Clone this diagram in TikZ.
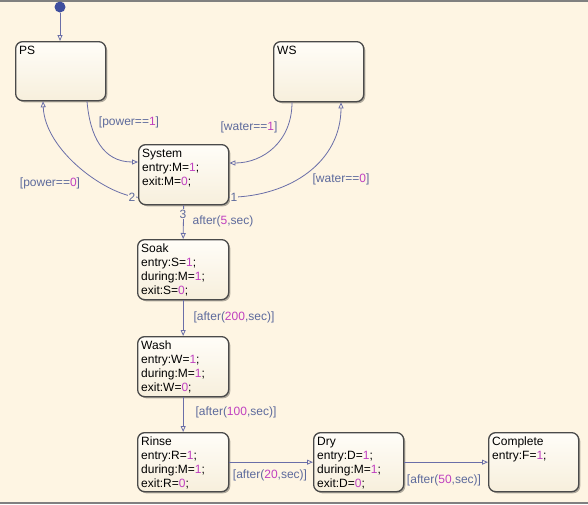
\documentclass[tikz,border=0pt]{standalone}
\usepackage{fontspec}
\setmainfont{Liberation Sans}
\usetikzlibrary{arrows.meta,shadows,calc}
\definecolor{bg}{HTML}{FEF5E3}
\definecolor{edge}{HTML}{6A6EA8}
\definecolor{lbl}{HTML}{5D6A9C}
\definecolor{num}{HTML}{C040C0}
\definecolor{boxtop}{HTML}{FFFDF8}
\definecolor{boxbot}{HTML}{F7EFDC}
\definecolor{frame}{HTML}{4A4A4A}
\definecolor{dotc}{HTML}{3F4E9E}
\definecolor{rule}{HTML}{808080}
\begin{document}
\begin{tikzpicture}[x=1pt,y=-1pt,
  statebox/.style={draw=frame, line width=1.3pt, rounded corners=7pt,
    top color=boxtop, bottom color=boxbot,
    minimum width=90pt, minimum height=60pt, inner sep=0pt, anchor=north west,
    drop shadow={shadow xshift=1.6pt,shadow yshift=-1.6pt,fill=black,opacity=0.3}},
  statetext/.style={anchor=north west, align=left, inner sep=0pt,
    font=\fontsize{12}{14}\selectfont, text=black},
  trans/.style={draw=edge, line width=0.8pt, -{Triangle[open,length=6pt,width=5pt]}},
  tlabel/.style={font=\fontsize{12}{14}\selectfont, text=lbl, inner sep=0pt},
  order/.style={tlabel, fill=bg, inner sep=0.6pt},
  ]
\fill[bg] (0,0) rectangle (588,504);
\fill[rule] (0,0) rectangle (588,1.5);
\fill[rule] (0,502) rectangle (588,504);
\useasboundingbox (0,0) rectangle (588,504);

% states
\node[statebox, minimum height=59pt] (ps) at (15,41) {};
\node[statebox] (ws) at (273,41) {};
\node[statebox] (sys) at (138,144) {};
\node[statebox, minimum width=91pt] (soak) at (137,239) {};
\node[statebox, minimum width=91pt] (wash) at (137,336) {};
\node[statebox, minimum width=91pt, minimum height=59pt] (rinse) at (137,432) {};
\node[statebox, minimum height=59pt] (dry) at (313,432) {};
\node[statebox, minimum height=59pt] (comp) at (488,432) {};

\node[statetext] (pst) at ($(ps.north west)+(4,5)$) {PS};
\node[statetext] (wst) at ($(ws.north west)+(4,5)$) {WS};
\node[statetext] (syst) at ($(sys.north west)+(4,5)$) {System\\entry:M=\textcolor{num}{1};\\exit:M=\textcolor{num}{0};};
\node[statetext] (soakt) at ($(soak.north west)+(4,5)$) {Soak\\entry:S=\textcolor{num}{1};\\during:M=\textcolor{num}{1};\\exit:S=\textcolor{num}{0};};
\node[statetext] (washt) at ($(wash.north west)+(4,5)$) {Wash\\entry:W=\textcolor{num}{1};\\during:M=\textcolor{num}{1};\\exit:W=\textcolor{num}{0};};
\node[statetext] (rinset) at ($(rinse.north west)+(4,5)$) {Rinse\\entry:R=\textcolor{num}{1};\\during:M=\textcolor{num}{1};\\exit:R=\textcolor{num}{0};};
\node[statetext] (dryt) at ($(dry.north west)+(4,5)$) {Dry\\entry:D=\textcolor{num}{1};\\during:M=\textcolor{num}{1};\\exit:D=\textcolor{num}{0};};
\node[statetext] (compt) at ($(comp.north west)+(4,5)$) {Complete\\entry:F=\textcolor{num}{1};};

% default transition
\node[circle, fill=dotc, minimum size=11pt, inner sep=0pt] (init) at (60,7) {};
\draw[trans] (init) -- (init |- ps.north);

% transitions
\draw[trans] ([xshift=72pt]ps.south west) .. controls +(3,35) and +(-35,0) .. ([yshift=-18pt]sys.north west);
\draw[trans] ([yshift=8pt]sys.south west) .. controls +(-33,-3) and +(2,49) .. ([xshift=28pt]ps.south west);
\draw[trans] ([xshift=19pt]ws.south west) .. controls +(0,39) and +(34,0) .. ([yshift=-19pt]sys.north east);
\draw[trans] ([yshift=8pt]sys.south east) .. controls +(62,-1) and +(0,59) .. ([xshift=68pt]ws.south west);
\draw[trans] (sys.south) -- (soak.north);
\draw[trans] (soak.south) -- (wash.north);
\draw[trans] (wash.south) -- (rinse.north);
\draw[trans] (rinse.east) -- (dry.west);
\draw[trans] (dry.east) -- (comp.west);

% labels
\node[tlabel] (l1) at (129,122) {[power==\textcolor{num}{1}]};
\node[tlabel] (l2) at (50,183) {[power==\textcolor{num}{0}]};
\node[tlabel] (l3) at (249,127) {[water==\textcolor{num}{1}]};
\node[tlabel] (l4) at (341,179) {[water==\textcolor{num}{0}]};
\node[order] (o2) at (132,197) {2};
\node[order] (o1) at (234,197) {1};
\node[order] (o3) at (183,214) {3};
\node[tlabel] (l5) at (223,221) {after(\textcolor{num}{5},sec)};
\node[tlabel] (l6) at (234,317) {[after(\textcolor{num}{200},sec)]};
\node[tlabel] (l7) at (236,412) {[after(\textcolor{num}{100},sec)]};
\node[tlabel] (l8) at (270,475) {[after(\textcolor{num}{20},sec)]};
\node[tlabel] (l9) at (444,480) {[after(\textcolor{num}{50},sec)]};
\end{tikzpicture}
\end{document}
